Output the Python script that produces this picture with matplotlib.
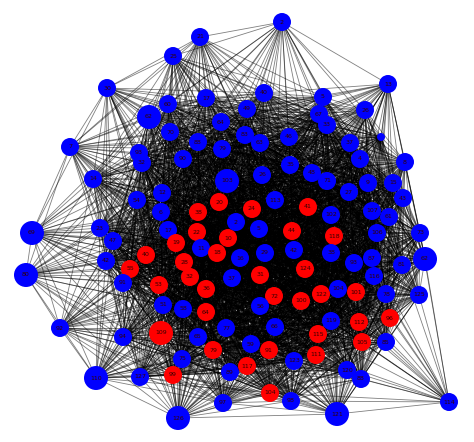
import matplotlib
matplotlib.use("Agg")
import matplotlib.pyplot as plt
import numpy as np
from matplotlib.collections import LineCollection

# --- node data (pixel coords, label, colour, radius) ---
labels = ["21", "25", "30", "60", "62", "70", "88", "7", "79", "93", "32", "90", "14", "103",
          "12", "54", "20", "38", "6", "17", "64",
          "2", "13", "40", "5", "49", "67", "26", "33", "83", "63", "46", "", "37", "4", "8",
          "35", "26", "48", "71", "9", "15", "27", "43", "113", "24", "41", "102", "107", "61",
          "69", "23", "17", "22", "10", "19", "47", "11", "18", "40", "42", "28", "55", "80",
          "32", "91", "53", "36", "51", "58", "64", "92", "77", "109", "94", "65", "79", "75",
          "89", "110", "127", "99", "97", "126",
          "5", "44", "118", "106", "73", "29", "42", "38", "93", "87", "81", "62", "16", "124",
          "116", "31", "104", "101", "72", "122", "100", "78", "125", "56", "96", "112", "119",
          "66", "115", "105", "85", "59", "91", "123", "111", "117", "120", "88", "114", "104",
          "98", "121", "2", "37"]
xs = [200, 173, 107, 168, 149, 170, 198, 70, 222, 139, 142, 183, 93, 227,
      162, 137, 219, 198, 161, 206, 221,
      282, 388, 264, 323, 247, 319, 365, 327, 245, 260, 289, 381, 350, 360, 405,
      290, 262, 312, 327, 368, 393, 349, 403, 275, 252, 308, 331, 372, 389,
      32, 100, 168, 197, 228, 176, 113, 201, 217, 146, 106, 184, 130, 26,
      190, 123, 159, 206, 163, 183, 206, 60, 226, 161, 123, 198, 213, 182,
      230, 96, 140, 173, 223, 178,
      259, 292, 334, 377, 420, 265, 294, 331, 354, 372, 402, 425, 240, 305,
      374, 260, 338, 356, 274, 321, 301, 386, 419, 260, 390, 359, 331,
      275, 318, 362, 386, 251, 269, 294, 316, 247, 347, 361, 449, 270,
      291, 337, 236, 232]
ys = [37, 56, 88, 104, 117, 132, 142, 147, 149, 153, 163, 159, 179, 181,
      193, 200, 202, 212, 212, 98, 122,
      22, 84, 93, 97, 109, 114, 110, 125, 135, 143, 137, 137, 143, 159, 162,
      165, 175, 173, 181, 183, 183, 192, 198, 200, 209, 207, 215, 211, 217,
      233, 228, 230, 232, 238, 243, 241, 248, 253, 255, 261, 262, 269, 275,
      277, 283, 285, 289, 305, 309, 312, 328, 328, 333, 337, 337, 350, 359,
      372, 378, 377, 375, 403, 418,
      229, 231, 236, 233, 233, 253, 250, 253, 263, 258, 265, 259, 258, 269,
      276, 275, 289, 292, 296, 294, 301, 294, 295, 306, 318, 322, 321,
      327, 334, 342, 342, 344, 350, 361, 355, 366, 370, 379, 402, 393,
      401, 414, 222, 278]
red = {"20", "38", "24", "41", "22", "10", "19", "18", "40", "28", "55", "32", "53", "36",
       "64", "109", "79", "99", "44", "118", "124", "31", "101", "72", "122", "100", "96",
       "112", "115", "105", "91", "111", "117", "104"}
big = {"62", "69", "80", "110", "126", "121", "109", "103"}

# blue nodes whose number also appears on a red node
blue_idx = {8, 10, 20, 23, 65, 91, 100}


def colour(i, lab):
    if i in blue_idx:
        return "blue"
    return "red" if lab in red else "blue"


cols = [colour(i, l) for i, l in enumerate(labels)]
radius = [12 if l in big else (4 if l == "" else 9) for l in labels]

pts = np.column_stack([xs, ys]).astype(float)
n = len(pts)
segs = []
for i in range(n):
    for j in range(i + 1, n):
        if np.hypot(*(pts[i] - pts[j])) < 180:
            segs.append([pts[i], pts[j]])

fig = plt.figure(figsize=(4.74, 4.42), dpi=100)
ax = fig.add_axes([0, 0, 1, 1])
ax.add_collection(LineCollection(segs, colors="black", linewidths=0.6, alpha=0.5, zorder=1))
s = [(r * 0.72 * 2) ** 2 for r in radius]
ax.scatter(xs, ys, s=s, c=cols, zorder=2, linewidths=0)
for x, y, l in zip(xs, ys, labels):
    ax.text(x, y, l, fontsize=4.5, ha="center", va="center", color="#330000", zorder=3)
ax.set_xlim(0, 474)
ax.set_ylim(442, 0)
ax.axis("off")
fig.savefig("out.png", dpi=100)
